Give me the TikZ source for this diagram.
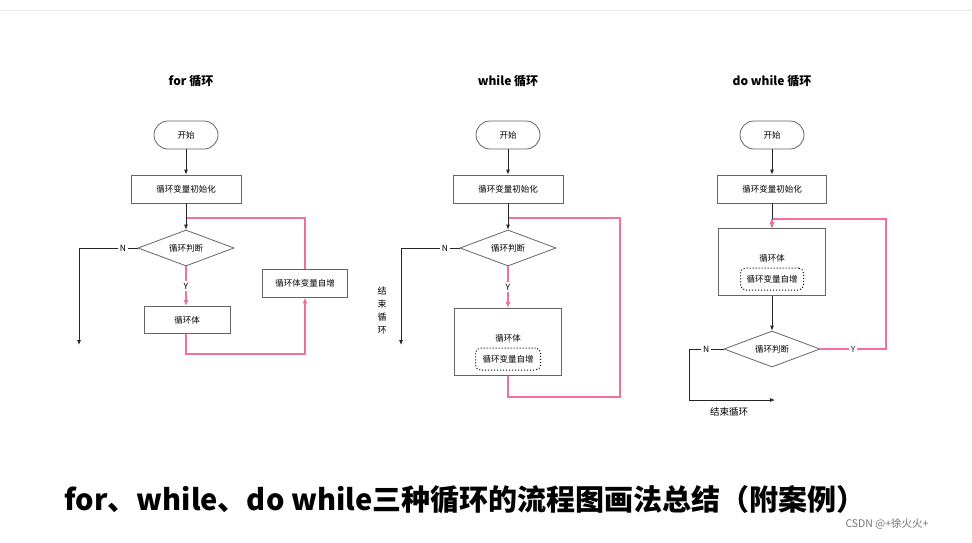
\documentclass[tikz,border=0pt]{standalone}
\usepackage{fontspec}
\setmainfont{Noto Sans CJK SC}
\usetikzlibrary{shapes.geometric,arrows.meta}
\definecolor{pk}{RGB}{243,112,150}
\definecolor{bd}{RGB}{100,100,100}
\begin{document}
\begin{tikzpicture}[x=1pt,y=-1pt,
 every node/.style={font=\fontsize{8.5}{9}\selectfont,inner sep=0pt},
 every path/.style={line width=0.8pt},
 term/.style={draw=bd,rounded corners=14pt,minimum width=64pt,minimum height=28pt},
 box/.style={draw=bd,minimum height=28pt},
 dia/.style={draw=bd,diamond,aspect=2.67,minimum width=96pt,minimum height=36pt},
 dot/.style={draw,dotted,line width=1pt,rounded corners=5pt,minimum width=65pt,minimum height=22pt},
 ttl/.style={font=\fontsize{12}{13}\selectfont\bfseries},
 ln/.style={draw=black!85,-{Latex[length=5pt,width=4pt]}},
 pl/.style={draw=pk,line width=1.3pt},
 pa/.style={pl,-{Latex[length=6pt,width=5pt]}},
 lab/.style={fill=white,inner sep=2pt}]
\useasboundingbox (0,0) rectangle (972,542);
\draw[black!8,line width=1pt] (0,10) -- (972,10);
% ---------- for
\node[ttl] (t1) at (191,81) {for 循环};
\node[term] (s1) at (186,135) {开始};
\node[box,minimum width=110pt] (i1) at (186,189) {循环变量初始化};
\node[dia] (d1) at (186,248) {循环判断};
\node[box,minimum width=86pt,minimum height=27pt] (b1) at (187,320) {循环体};
\node[box,minimum width=85pt] (c1) at (305,283) {循环体变量自增};
\coordinate (n1) at (79,248); \coordinate (e1) at (79,345);
\coordinate (j1) at (186,218);
\draw[ln] (s1) -- (i1);
\draw[pl] (c1.north) |- (j1);
\draw[ln] (i1) -- (d1.north);
\draw[pa] (d1.south) -- node[lab]{Y} (b1.north -| d1.south);
\draw[pa] (b1.south -| d1.south) -- ++(0,20) -| (c1.south);
\draw[ln] (d1.west) -- node[lab,pos=0.25]{N} (n1) -- (e1);
% ---------- while
\node[ttl] (t2) at (508,81) {while 循环};
\node[term] (s2) at (508,135) {开始};
\node[box,minimum width=110pt] (i2) at (508,189) {循环变量初始化};
\node[dia] (d2) at (508,248) {循环判断};
\node[box,minimum width=107pt,minimum height=67pt] (b2) at (508,342) {};
\node (bt2) at (508,338) {循环体};
\node[dot] (dd2) at (508,359) {循环变量自增};
\coordinate (n2) at (401,248); \coordinate (e2) at (401,345);
\coordinate (j2) at (508,218);
\draw[ln] (s2) -- (i2);
\draw[pl] (b2.south) -- ++(0,21) -| (620,218) -- (j2);
\draw[ln] (i2) -- (d2.north);
\draw[pa] (d2.south) -- node[lab]{Y} (b2.north);
\draw[ln] (d2.west) -- node[lab,pos=0.25]{N} (n2) -- (e2);
\node[align=center,font=\fontsize{9}{13}\selectfont] (v2) at (382,311) {结\\束\\循\\环};
% ---------- do while
\node[ttl] (t3) at (772,81) {do while 循环};
\node[term] (s3) at (772,135) {开始};
\node[box,minimum width=109pt] (i3) at (772,189) {循环变量初始化};
\node[box,minimum width=107pt,minimum height=67pt] (b3) at (772,262) {};
\node (bt3) at (772,258) {循环体};
\node[dot,minimum width=63pt] (dd3) at (772,279) {循环变量自增};
\node[dia] (d3) at (772,349) {循环判断};
\coordinate (n3) at (689,349); \coordinate (m3) at (689,400); \coordinate (e3) at (775,400);
\draw[ln] (s3) -- (i3);
\draw[pl] (d3.east) -- node[lab]{\textcolor{black!85}{Y}} (886,349) |- (772,219);
\draw[ln] (i3) -- (b3);
\draw[pa] (772,219) -- (b3.north);
\draw[ln] (b3) -- (d3);
\draw[ln] (d3.west) -- node[lab,pos=0.5]{N} (n3) -- (m3) -- (e3);
\node[font=\fontsize{9.5}{10}\selectfont] (x3) at (729,412) {结束循环};
% ---------- footer
\node[font=\fontsize{29}{32}\selectfont\bfseries] (ft) at (465,500) {for、while、do while三种循环的流程图画法总结（附案例）};
\node[font=\fontsize{10.5}{11}\selectfont,text=black!55] (wm) at (887,524) {CSDN @+徐火火+};
\end{tikzpicture}
\end{document}
